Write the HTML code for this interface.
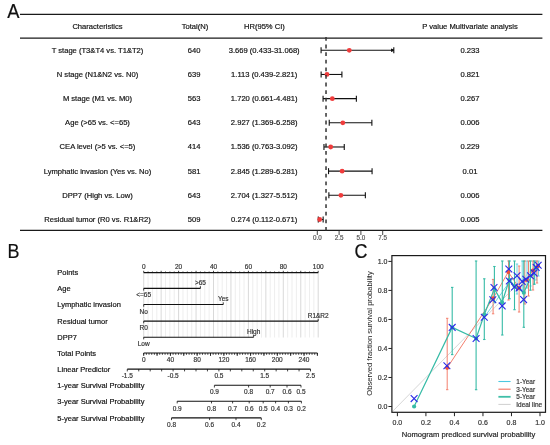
<!DOCTYPE html>
<html><head><meta charset="utf-8"><style>
html,body{margin:0;padding:0;background:#fff;}
svg{display:block;will-change:transform;}
text{font-family:"Liberation Sans", sans-serif;}
</style></head><body>
<svg width="550" height="445" viewBox="0 0 550 445">
<rect width="550" height="445" fill="#fff"/>
<g transform="translate(13.3,17.6) scale(0.95,1)">
<text x="0.00" y="0.00" font-size="19.3" text-anchor="middle" fill="#111" stroke="#111" stroke-width="0.18" >A</text>
</g>
<line x1="20.00" y1="14.30" x2="542.40" y2="14.30" stroke="#1a1a1a" stroke-width="1.2" />
<line x1="20.00" y1="38.20" x2="542.40" y2="38.20" stroke="#1a1a1a" stroke-width="1.2" />
<line x1="20.00" y1="230.40" x2="542.40" y2="230.40" stroke="#1a1a1a" stroke-width="1.2" />
<text x="97.50" y="29.10" font-size="7.6" text-anchor="middle" fill="#111" stroke="#111" stroke-width="0.18" >Characteristics</text>
<text x="195.00" y="29.10" font-size="7.6" text-anchor="middle" fill="#111" stroke="#111" stroke-width="0.18" >Total(N)</text>
<text x="264.40" y="29.10" font-size="7.6" text-anchor="middle" fill="#111" stroke="#111" stroke-width="0.18" >HR(95% CI)</text>
<text x="470.00" y="29.10" font-size="7.6" text-anchor="middle" fill="#111" stroke="#111" stroke-width="0.18" >P value Multivariate analysis</text>
<text x="97.50" y="52.70" font-size="7.6" text-anchor="middle" fill="#111" stroke="#111" stroke-width="0.18" >T stage (T3&amp;T4 vs. T1&amp;T2)</text>
<text x="194.20" y="52.70" font-size="7.6" text-anchor="middle" fill="#111" stroke="#111" stroke-width="0.18" >640</text>
<text x="264.20" y="52.70" font-size="7.6" text-anchor="middle" fill="#111" stroke="#111" stroke-width="0.18" >3.669 (0.433-31.068)</text>
<text x="470.00" y="52.70" font-size="7.6" text-anchor="middle" fill="#111" stroke="#111" stroke-width="0.18" >0.233</text>
<line x1="321.08" y1="50.30" x2="393.80" y2="50.30" stroke="#111" stroke-width="1.1" />
<line x1="321.08" y1="47.30" x2="321.08" y2="53.30" stroke="#111" stroke-width="1.1" />
<path d="M391.00,48.50 L393.80,49.50 L393.80,51.10 L391.00,52.10 Z" fill="#111"/>
<line x1="393.80" y1="47.30" x2="393.80" y2="53.30" stroke="#111" stroke-width="1.1" />
<circle cx="349.29" cy="50.30" r="2.4" fill="#f03c3c"/>
<text x="97.50" y="76.87" font-size="7.6" text-anchor="middle" fill="#111" stroke="#111" stroke-width="0.18" >N stage (N1&amp;N2 vs. N0)</text>
<text x="194.20" y="76.87" font-size="7.6" text-anchor="middle" fill="#111" stroke="#111" stroke-width="0.18" >639</text>
<text x="264.20" y="76.87" font-size="7.6" text-anchor="middle" fill="#111" stroke="#111" stroke-width="0.18" >1.113 (0.439-2.821)</text>
<text x="470.00" y="76.87" font-size="7.6" text-anchor="middle" fill="#111" stroke="#111" stroke-width="0.18" >0.821</text>
<line x1="321.13" y1="74.47" x2="341.90" y2="74.47" stroke="#111" stroke-width="1.1" />
<line x1="321.13" y1="71.47" x2="321.13" y2="77.47" stroke="#111" stroke-width="1.1" />
<line x1="341.90" y1="71.47" x2="341.90" y2="77.47" stroke="#111" stroke-width="1.1" />
<circle cx="327.01" cy="74.47" r="2.4" fill="#f03c3c"/>
<text x="97.50" y="101.04" font-size="7.6" text-anchor="middle" fill="#111" stroke="#111" stroke-width="0.18" >M stage (M1 vs. M0)</text>
<text x="194.20" y="101.04" font-size="7.6" text-anchor="middle" fill="#111" stroke="#111" stroke-width="0.18" >563</text>
<text x="264.20" y="101.04" font-size="7.6" text-anchor="middle" fill="#111" stroke="#111" stroke-width="0.18" >1.720 (0.661-4.481)</text>
<text x="470.00" y="101.04" font-size="7.6" text-anchor="middle" fill="#111" stroke="#111" stroke-width="0.18" >0.267</text>
<line x1="323.06" y1="98.64" x2="356.37" y2="98.64" stroke="#111" stroke-width="1.1" />
<line x1="323.06" y1="95.64" x2="323.06" y2="101.64" stroke="#111" stroke-width="1.1" />
<line x1="356.37" y1="95.64" x2="356.37" y2="101.64" stroke="#111" stroke-width="1.1" />
<circle cx="332.30" cy="98.64" r="2.4" fill="#f03c3c"/>
<text x="97.50" y="125.21" font-size="7.6" text-anchor="middle" fill="#111" stroke="#111" stroke-width="0.18" >Age (&gt;65 vs. &lt;=65)</text>
<text x="194.20" y="125.21" font-size="7.6" text-anchor="middle" fill="#111" stroke="#111" stroke-width="0.18" >643</text>
<text x="264.20" y="125.21" font-size="7.6" text-anchor="middle" fill="#111" stroke="#111" stroke-width="0.18" >2.927 (1.369-6.258)</text>
<text x="470.00" y="125.21" font-size="7.6" text-anchor="middle" fill="#111" stroke="#111" stroke-width="0.18" >0.006</text>
<line x1="329.24" y1="122.81" x2="371.87" y2="122.81" stroke="#111" stroke-width="1.1" />
<line x1="329.24" y1="119.81" x2="329.24" y2="125.81" stroke="#111" stroke-width="1.1" />
<line x1="371.87" y1="119.81" x2="371.87" y2="125.81" stroke="#111" stroke-width="1.1" />
<circle cx="342.82" cy="122.81" r="2.4" fill="#f03c3c"/>
<text x="97.50" y="149.38" font-size="7.6" text-anchor="middle" fill="#111" stroke="#111" stroke-width="0.18" >CEA level (&gt;5 vs. &lt;=5)</text>
<text x="194.20" y="149.38" font-size="7.6" text-anchor="middle" fill="#111" stroke="#111" stroke-width="0.18" >414</text>
<text x="264.20" y="149.38" font-size="7.6" text-anchor="middle" fill="#111" stroke="#111" stroke-width="0.18" >1.536 (0.763-3.092)</text>
<text x="470.00" y="149.38" font-size="7.6" text-anchor="middle" fill="#111" stroke="#111" stroke-width="0.18" >0.229</text>
<line x1="323.95" y1="146.98" x2="344.26" y2="146.98" stroke="#111" stroke-width="1.1" />
<line x1="323.95" y1="143.98" x2="323.95" y2="149.98" stroke="#111" stroke-width="1.1" />
<line x1="344.26" y1="143.98" x2="344.26" y2="149.98" stroke="#111" stroke-width="1.1" />
<circle cx="330.69" cy="146.98" r="2.4" fill="#f03c3c"/>
<text x="97.50" y="173.55" font-size="7.6" text-anchor="middle" fill="#111" stroke="#111" stroke-width="0.18" >Lymphatic invasion (Yes vs. No)</text>
<text x="194.20" y="173.55" font-size="7.6" text-anchor="middle" fill="#111" stroke="#111" stroke-width="0.18" >581</text>
<text x="264.20" y="173.55" font-size="7.6" text-anchor="middle" fill="#111" stroke="#111" stroke-width="0.18" >2.845 (1.289-6.281)</text>
<text x="470.00" y="173.55" font-size="7.6" text-anchor="middle" fill="#111" stroke="#111" stroke-width="0.18" >0.01</text>
<line x1="328.54" y1="171.15" x2="372.07" y2="171.15" stroke="#111" stroke-width="1.1" />
<line x1="328.54" y1="168.15" x2="328.54" y2="174.15" stroke="#111" stroke-width="1.1" />
<line x1="372.07" y1="168.15" x2="372.07" y2="174.15" stroke="#111" stroke-width="1.1" />
<circle cx="342.11" cy="171.15" r="2.4" fill="#f03c3c"/>
<text x="97.50" y="197.72" font-size="7.6" text-anchor="middle" fill="#111" stroke="#111" stroke-width="0.18" >DPP7 (High vs. Low)</text>
<text x="194.20" y="197.72" font-size="7.6" text-anchor="middle" fill="#111" stroke="#111" stroke-width="0.18" >643</text>
<text x="264.20" y="197.72" font-size="7.6" text-anchor="middle" fill="#111" stroke="#111" stroke-width="0.18" >2.704 (1.327-5.512)</text>
<text x="470.00" y="197.72" font-size="7.6" text-anchor="middle" fill="#111" stroke="#111" stroke-width="0.18" >0.006</text>
<line x1="328.87" y1="195.32" x2="365.36" y2="195.32" stroke="#111" stroke-width="1.1" />
<line x1="328.87" y1="192.32" x2="328.87" y2="198.32" stroke="#111" stroke-width="1.1" />
<line x1="365.36" y1="192.32" x2="365.36" y2="198.32" stroke="#111" stroke-width="1.1" />
<circle cx="340.88" cy="195.32" r="2.4" fill="#f03c3c"/>
<text x="97.50" y="221.89" font-size="7.6" text-anchor="middle" fill="#111" stroke="#111" stroke-width="0.18" >Residual tumor (R0 vs. R1&amp;R2)</text>
<text x="194.20" y="221.89" font-size="7.6" text-anchor="middle" fill="#111" stroke="#111" stroke-width="0.18" >509</text>
<text x="264.20" y="221.89" font-size="7.6" text-anchor="middle" fill="#111" stroke="#111" stroke-width="0.18" >0.274 (0.112-0.671)</text>
<text x="470.00" y="221.89" font-size="7.6" text-anchor="middle" fill="#111" stroke="#111" stroke-width="0.18" >0.005</text>
<line x1="318.28" y1="219.49" x2="323.15" y2="219.49" stroke="#111" stroke-width="1.1" />
<line x1="318.28" y1="216.49" x2="318.28" y2="222.49" stroke="#111" stroke-width="1.1" />
<line x1="323.15" y1="216.49" x2="323.15" y2="222.49" stroke="#111" stroke-width="1.1" />
<circle cx="319.69" cy="219.49" r="2.4" fill="#f03c3c"/>
<line x1="326.02" y1="37.00" x2="326.02" y2="230.60" stroke="#333" stroke-width="1.5" stroke-dasharray="3.8 3.8"/>
<line x1="317.30" y1="230.60" x2="317.30" y2="235.00" stroke="#333" stroke-width="0.9" />
<text x="317.30" y="239.80" font-size="6.3" text-anchor="middle" fill="#555" stroke="#555" stroke-width="0.18" >0.0</text>
<line x1="339.10" y1="230.60" x2="339.10" y2="235.00" stroke="#333" stroke-width="0.9" />
<text x="339.10" y="239.80" font-size="6.3" text-anchor="middle" fill="#555" stroke="#555" stroke-width="0.18" >2.5</text>
<line x1="360.90" y1="230.60" x2="360.90" y2="235.00" stroke="#333" stroke-width="0.9" />
<text x="360.90" y="239.80" font-size="6.3" text-anchor="middle" fill="#555" stroke="#555" stroke-width="0.18" >5.0</text>
<line x1="382.70" y1="230.60" x2="382.70" y2="235.00" stroke="#333" stroke-width="0.9" />
<text x="382.70" y="239.80" font-size="6.3" text-anchor="middle" fill="#555" stroke="#555" stroke-width="0.18" >7.5</text>
<g transform="translate(13.4,257.8) scale(0.93,1)">
<text x="0.00" y="0.00" font-size="19.3" text-anchor="middle" fill="#111" stroke="#111" stroke-width="0.18" >B</text>
</g>
<text x="57.30" y="275.30" font-size="7.5" text-anchor="start" fill="#111" stroke="#111" stroke-width="0.18" >Points</text>
<text x="57.30" y="291.00" font-size="7.5" text-anchor="start" fill="#111" stroke="#111" stroke-width="0.18" >Age</text>
<text x="57.30" y="307.20" font-size="7.5" text-anchor="start" fill="#111" stroke="#111" stroke-width="0.18" >Lymphatic invasion</text>
<text x="57.30" y="323.70" font-size="7.5" text-anchor="start" fill="#111" stroke="#111" stroke-width="0.18" >Residual tumor</text>
<text x="57.30" y="339.90" font-size="7.5" text-anchor="start" fill="#111" stroke="#111" stroke-width="0.18" >DPP7</text>
<text x="57.30" y="356.30" font-size="7.5" text-anchor="start" fill="#111" stroke="#111" stroke-width="0.18" >Total Points</text>
<text x="57.30" y="372.00" font-size="7.5" text-anchor="start" fill="#111" stroke="#111" stroke-width="0.18" >Linear Predictor</text>
<text x="57.30" y="387.90" font-size="7.5" text-anchor="start" fill="#111" stroke="#111" stroke-width="0.18" >1-year Survival Probability</text>
<text x="57.30" y="404.00" font-size="7.5" text-anchor="start" fill="#111" stroke="#111" stroke-width="0.18" >3-year Survival Probability</text>
<text x="57.30" y="420.50" font-size="7.5" text-anchor="start" fill="#111" stroke="#111" stroke-width="0.18" >5-year Survival Probability</text>
<line x1="143.70" y1="272.60" x2="143.70" y2="337.50" stroke="#c8c8c8" stroke-width="0.7" />
<line x1="148.06" y1="272.60" x2="148.06" y2="337.50" stroke="#e6e6e6" stroke-width="0.7" />
<line x1="152.42" y1="272.60" x2="152.42" y2="337.50" stroke="#e6e6e6" stroke-width="0.7" />
<line x1="156.79" y1="272.60" x2="156.79" y2="337.50" stroke="#e6e6e6" stroke-width="0.7" />
<line x1="161.15" y1="272.60" x2="161.15" y2="337.50" stroke="#c8c8c8" stroke-width="0.7" />
<line x1="165.51" y1="272.60" x2="165.51" y2="337.50" stroke="#e6e6e6" stroke-width="0.7" />
<line x1="169.88" y1="272.60" x2="169.88" y2="337.50" stroke="#e6e6e6" stroke-width="0.7" />
<line x1="174.24" y1="272.60" x2="174.24" y2="337.50" stroke="#e6e6e6" stroke-width="0.7" />
<line x1="178.60" y1="272.60" x2="178.60" y2="337.50" stroke="#c8c8c8" stroke-width="0.7" />
<line x1="182.96" y1="272.60" x2="182.96" y2="337.50" stroke="#e6e6e6" stroke-width="0.7" />
<line x1="187.32" y1="272.60" x2="187.32" y2="337.50" stroke="#e6e6e6" stroke-width="0.7" />
<line x1="191.69" y1="272.60" x2="191.69" y2="337.50" stroke="#e6e6e6" stroke-width="0.7" />
<line x1="196.05" y1="272.60" x2="196.05" y2="337.50" stroke="#c8c8c8" stroke-width="0.7" />
<line x1="200.41" y1="272.60" x2="200.41" y2="337.50" stroke="#e6e6e6" stroke-width="0.7" />
<line x1="204.77" y1="272.60" x2="204.77" y2="337.50" stroke="#e6e6e6" stroke-width="0.7" />
<line x1="209.14" y1="272.60" x2="209.14" y2="337.50" stroke="#e6e6e6" stroke-width="0.7" />
<line x1="213.50" y1="272.60" x2="213.50" y2="337.50" stroke="#c8c8c8" stroke-width="0.7" />
<line x1="217.86" y1="272.60" x2="217.86" y2="337.50" stroke="#e6e6e6" stroke-width="0.7" />
<line x1="222.22" y1="272.60" x2="222.22" y2="337.50" stroke="#e6e6e6" stroke-width="0.7" />
<line x1="226.59" y1="272.60" x2="226.59" y2="337.50" stroke="#e6e6e6" stroke-width="0.7" />
<line x1="230.95" y1="272.60" x2="230.95" y2="337.50" stroke="#c8c8c8" stroke-width="0.7" />
<line x1="235.31" y1="272.60" x2="235.31" y2="337.50" stroke="#e6e6e6" stroke-width="0.7" />
<line x1="239.68" y1="272.60" x2="239.68" y2="337.50" stroke="#e6e6e6" stroke-width="0.7" />
<line x1="244.04" y1="272.60" x2="244.04" y2="337.50" stroke="#e6e6e6" stroke-width="0.7" />
<line x1="248.40" y1="272.60" x2="248.40" y2="337.50" stroke="#c8c8c8" stroke-width="0.7" />
<line x1="252.76" y1="272.60" x2="252.76" y2="337.50" stroke="#e6e6e6" stroke-width="0.7" />
<line x1="257.12" y1="272.60" x2="257.12" y2="337.50" stroke="#e6e6e6" stroke-width="0.7" />
<line x1="261.49" y1="272.60" x2="261.49" y2="337.50" stroke="#e6e6e6" stroke-width="0.7" />
<line x1="265.85" y1="272.60" x2="265.85" y2="337.50" stroke="#c8c8c8" stroke-width="0.7" />
<line x1="270.21" y1="272.60" x2="270.21" y2="337.50" stroke="#e6e6e6" stroke-width="0.7" />
<line x1="274.57" y1="272.60" x2="274.57" y2="337.50" stroke="#e6e6e6" stroke-width="0.7" />
<line x1="278.94" y1="272.60" x2="278.94" y2="337.50" stroke="#e6e6e6" stroke-width="0.7" />
<line x1="283.30" y1="272.60" x2="283.30" y2="337.50" stroke="#c8c8c8" stroke-width="0.7" />
<line x1="287.66" y1="272.60" x2="287.66" y2="337.50" stroke="#e6e6e6" stroke-width="0.7" />
<line x1="292.02" y1="272.60" x2="292.02" y2="337.50" stroke="#e6e6e6" stroke-width="0.7" />
<line x1="296.39" y1="272.60" x2="296.39" y2="337.50" stroke="#e6e6e6" stroke-width="0.7" />
<line x1="300.75" y1="272.60" x2="300.75" y2="337.50" stroke="#c8c8c8" stroke-width="0.7" />
<line x1="305.11" y1="272.60" x2="305.11" y2="337.50" stroke="#e6e6e6" stroke-width="0.7" />
<line x1="309.48" y1="272.60" x2="309.48" y2="337.50" stroke="#e6e6e6" stroke-width="0.7" />
<line x1="313.84" y1="272.60" x2="313.84" y2="337.50" stroke="#e6e6e6" stroke-width="0.7" />
<line x1="318.20" y1="272.60" x2="318.20" y2="337.50" stroke="#c8c8c8" stroke-width="0.7" />
<line x1="143.70" y1="272.60" x2="318.20" y2="272.60" stroke="#111" stroke-width="1.1" />
<line x1="143.70" y1="272.60" x2="143.70" y2="270.80" stroke="#111" stroke-width="0.8" />
<line x1="148.06" y1="272.60" x2="148.06" y2="271.50" stroke="#111" stroke-width="0.8" />
<line x1="152.42" y1="272.60" x2="152.42" y2="271.50" stroke="#111" stroke-width="0.8" />
<line x1="156.79" y1="272.60" x2="156.79" y2="271.50" stroke="#111" stroke-width="0.8" />
<line x1="161.15" y1="272.60" x2="161.15" y2="270.80" stroke="#111" stroke-width="0.8" />
<line x1="165.51" y1="272.60" x2="165.51" y2="271.50" stroke="#111" stroke-width="0.8" />
<line x1="169.88" y1="272.60" x2="169.88" y2="271.50" stroke="#111" stroke-width="0.8" />
<line x1="174.24" y1="272.60" x2="174.24" y2="271.50" stroke="#111" stroke-width="0.8" />
<line x1="178.60" y1="272.60" x2="178.60" y2="270.80" stroke="#111" stroke-width="0.8" />
<line x1="182.96" y1="272.60" x2="182.96" y2="271.50" stroke="#111" stroke-width="0.8" />
<line x1="187.32" y1="272.60" x2="187.32" y2="271.50" stroke="#111" stroke-width="0.8" />
<line x1="191.69" y1="272.60" x2="191.69" y2="271.50" stroke="#111" stroke-width="0.8" />
<line x1="196.05" y1="272.60" x2="196.05" y2="270.80" stroke="#111" stroke-width="0.8" />
<line x1="200.41" y1="272.60" x2="200.41" y2="271.50" stroke="#111" stroke-width="0.8" />
<line x1="204.77" y1="272.60" x2="204.77" y2="271.50" stroke="#111" stroke-width="0.8" />
<line x1="209.14" y1="272.60" x2="209.14" y2="271.50" stroke="#111" stroke-width="0.8" />
<line x1="213.50" y1="272.60" x2="213.50" y2="270.80" stroke="#111" stroke-width="0.8" />
<line x1="217.86" y1="272.60" x2="217.86" y2="271.50" stroke="#111" stroke-width="0.8" />
<line x1="222.22" y1="272.60" x2="222.22" y2="271.50" stroke="#111" stroke-width="0.8" />
<line x1="226.59" y1="272.60" x2="226.59" y2="271.50" stroke="#111" stroke-width="0.8" />
<line x1="230.95" y1="272.60" x2="230.95" y2="270.80" stroke="#111" stroke-width="0.8" />
<line x1="235.31" y1="272.60" x2="235.31" y2="271.50" stroke="#111" stroke-width="0.8" />
<line x1="239.68" y1="272.60" x2="239.68" y2="271.50" stroke="#111" stroke-width="0.8" />
<line x1="244.04" y1="272.60" x2="244.04" y2="271.50" stroke="#111" stroke-width="0.8" />
<line x1="248.40" y1="272.60" x2="248.40" y2="270.80" stroke="#111" stroke-width="0.8" />
<line x1="252.76" y1="272.60" x2="252.76" y2="271.50" stroke="#111" stroke-width="0.8" />
<line x1="257.12" y1="272.60" x2="257.12" y2="271.50" stroke="#111" stroke-width="0.8" />
<line x1="261.49" y1="272.60" x2="261.49" y2="271.50" stroke="#111" stroke-width="0.8" />
<line x1="265.85" y1="272.60" x2="265.85" y2="270.80" stroke="#111" stroke-width="0.8" />
<line x1="270.21" y1="272.60" x2="270.21" y2="271.50" stroke="#111" stroke-width="0.8" />
<line x1="274.57" y1="272.60" x2="274.57" y2="271.50" stroke="#111" stroke-width="0.8" />
<line x1="278.94" y1="272.60" x2="278.94" y2="271.50" stroke="#111" stroke-width="0.8" />
<line x1="283.30" y1="272.60" x2="283.30" y2="270.80" stroke="#111" stroke-width="0.8" />
<line x1="287.66" y1="272.60" x2="287.66" y2="271.50" stroke="#111" stroke-width="0.8" />
<line x1="292.02" y1="272.60" x2="292.02" y2="271.50" stroke="#111" stroke-width="0.8" />
<line x1="296.39" y1="272.60" x2="296.39" y2="271.50" stroke="#111" stroke-width="0.8" />
<line x1="300.75" y1="272.60" x2="300.75" y2="270.80" stroke="#111" stroke-width="0.8" />
<line x1="305.11" y1="272.60" x2="305.11" y2="271.50" stroke="#111" stroke-width="0.8" />
<line x1="309.48" y1="272.60" x2="309.48" y2="271.50" stroke="#111" stroke-width="0.8" />
<line x1="313.84" y1="272.60" x2="313.84" y2="271.50" stroke="#111" stroke-width="0.8" />
<line x1="318.20" y1="272.60" x2="318.20" y2="270.80" stroke="#111" stroke-width="0.8" />
<text x="143.70" y="268.60" font-size="6.5" text-anchor="middle" fill="#333" stroke="#333" stroke-width="0.18" >0</text>
<text x="178.60" y="268.60" font-size="6.5" text-anchor="middle" fill="#333" stroke="#333" stroke-width="0.18" >20</text>
<text x="213.50" y="268.60" font-size="6.5" text-anchor="middle" fill="#333" stroke="#333" stroke-width="0.18" >40</text>
<text x="248.40" y="268.60" font-size="6.5" text-anchor="middle" fill="#333" stroke="#333" stroke-width="0.18" >60</text>
<text x="283.30" y="268.60" font-size="6.5" text-anchor="middle" fill="#333" stroke="#333" stroke-width="0.18" >80</text>
<text x="318.20" y="268.60" font-size="6.5" text-anchor="middle" fill="#333" stroke="#333" stroke-width="0.18" >100</text>
<line x1="143.70" y1="288.40" x2="200.41" y2="288.40" stroke="#111" stroke-width="1.1" />
<line x1="143.70" y1="288.40" x2="143.70" y2="290.60" stroke="#111" stroke-width="0.8" />
<line x1="200.41" y1="288.40" x2="200.41" y2="286.20" stroke="#111" stroke-width="0.8" />
<text x="143.70" y="297.40" font-size="6.5" text-anchor="middle" fill="#333" stroke="#333" stroke-width="0.18" >&lt;=65</text>
<text x="200.41" y="285.00" font-size="6.5" text-anchor="middle" fill="#333" stroke="#333" stroke-width="0.18" >&gt;65</text>
<line x1="143.70" y1="304.50" x2="223.27" y2="304.50" stroke="#111" stroke-width="1.1" />
<line x1="143.70" y1="304.50" x2="143.70" y2="306.70" stroke="#111" stroke-width="0.8" />
<line x1="223.27" y1="304.50" x2="223.27" y2="302.30" stroke="#111" stroke-width="0.8" />
<text x="143.70" y="313.50" font-size="6.5" text-anchor="middle" fill="#333" stroke="#333" stroke-width="0.18" >No</text>
<text x="223.27" y="301.10" font-size="6.5" text-anchor="middle" fill="#333" stroke="#333" stroke-width="0.18" >Yes</text>
<line x1="143.70" y1="321.10" x2="318.20" y2="321.10" stroke="#111" stroke-width="1.1" />
<line x1="143.70" y1="321.10" x2="143.70" y2="323.30" stroke="#111" stroke-width="0.8" />
<line x1="318.20" y1="321.10" x2="318.20" y2="318.90" stroke="#111" stroke-width="0.8" />
<text x="143.70" y="330.10" font-size="6.5" text-anchor="middle" fill="#333" stroke="#333" stroke-width="0.18" >R0</text>
<text x="318.20" y="317.70" font-size="6.5" text-anchor="middle" fill="#333" stroke="#333" stroke-width="0.18" >R1&amp;R2</text>
<line x1="143.70" y1="337.20" x2="253.63" y2="337.20" stroke="#111" stroke-width="1.1" />
<line x1="143.70" y1="337.20" x2="143.70" y2="339.40" stroke="#111" stroke-width="0.8" />
<line x1="253.63" y1="337.20" x2="253.63" y2="335.00" stroke="#111" stroke-width="0.8" />
<text x="143.70" y="346.20" font-size="6.5" text-anchor="middle" fill="#333" stroke="#333" stroke-width="0.18" >Low</text>
<text x="253.63" y="333.80" font-size="6.5" text-anchor="middle" fill="#333" stroke="#333" stroke-width="0.18" >High</text>
<line x1="143.70" y1="353.00" x2="317.38" y2="353.00" stroke="#111" stroke-width="1.1" />
<line x1="143.70" y1="353.00" x2="143.70" y2="354.80" stroke="#111" stroke-width="0.8" />
<line x1="146.37" y1="353.00" x2="146.37" y2="354.80" stroke="#111" stroke-width="0.8" />
<line x1="149.04" y1="353.00" x2="149.04" y2="354.80" stroke="#111" stroke-width="0.8" />
<line x1="151.72" y1="353.00" x2="151.72" y2="354.80" stroke="#111" stroke-width="0.8" />
<line x1="154.39" y1="353.00" x2="154.39" y2="354.80" stroke="#111" stroke-width="0.8" />
<line x1="157.06" y1="353.00" x2="157.06" y2="354.80" stroke="#111" stroke-width="0.8" />
<line x1="159.73" y1="353.00" x2="159.73" y2="354.80" stroke="#111" stroke-width="0.8" />
<line x1="162.40" y1="353.00" x2="162.40" y2="354.80" stroke="#111" stroke-width="0.8" />
<line x1="165.08" y1="353.00" x2="165.08" y2="354.80" stroke="#111" stroke-width="0.8" />
<line x1="167.75" y1="353.00" x2="167.75" y2="354.80" stroke="#111" stroke-width="0.8" />
<line x1="170.42" y1="353.00" x2="170.42" y2="354.80" stroke="#111" stroke-width="0.8" />
<line x1="173.09" y1="353.00" x2="173.09" y2="354.80" stroke="#111" stroke-width="0.8" />
<line x1="175.76" y1="353.00" x2="175.76" y2="354.80" stroke="#111" stroke-width="0.8" />
<line x1="178.44" y1="353.00" x2="178.44" y2="354.80" stroke="#111" stroke-width="0.8" />
<line x1="181.11" y1="353.00" x2="181.11" y2="354.80" stroke="#111" stroke-width="0.8" />
<line x1="183.78" y1="353.00" x2="183.78" y2="354.80" stroke="#111" stroke-width="0.8" />
<line x1="186.45" y1="353.00" x2="186.45" y2="354.80" stroke="#111" stroke-width="0.8" />
<line x1="189.12" y1="353.00" x2="189.12" y2="354.80" stroke="#111" stroke-width="0.8" />
<line x1="191.80" y1="353.00" x2="191.80" y2="354.80" stroke="#111" stroke-width="0.8" />
<line x1="194.47" y1="353.00" x2="194.47" y2="354.80" stroke="#111" stroke-width="0.8" />
<line x1="197.14" y1="353.00" x2="197.14" y2="354.80" stroke="#111" stroke-width="0.8" />
<line x1="199.81" y1="353.00" x2="199.81" y2="354.80" stroke="#111" stroke-width="0.8" />
<line x1="202.48" y1="353.00" x2="202.48" y2="354.80" stroke="#111" stroke-width="0.8" />
<line x1="205.16" y1="353.00" x2="205.16" y2="354.80" stroke="#111" stroke-width="0.8" />
<line x1="207.83" y1="353.00" x2="207.83" y2="354.80" stroke="#111" stroke-width="0.8" />
<line x1="210.50" y1="353.00" x2="210.50" y2="354.80" stroke="#111" stroke-width="0.8" />
<line x1="213.17" y1="353.00" x2="213.17" y2="354.80" stroke="#111" stroke-width="0.8" />
<line x1="215.84" y1="353.00" x2="215.84" y2="354.80" stroke="#111" stroke-width="0.8" />
<line x1="218.52" y1="353.00" x2="218.52" y2="354.80" stroke="#111" stroke-width="0.8" />
<line x1="221.19" y1="353.00" x2="221.19" y2="354.80" stroke="#111" stroke-width="0.8" />
<line x1="223.86" y1="353.00" x2="223.86" y2="354.80" stroke="#111" stroke-width="0.8" />
<line x1="226.53" y1="353.00" x2="226.53" y2="354.80" stroke="#111" stroke-width="0.8" />
<line x1="229.20" y1="353.00" x2="229.20" y2="354.80" stroke="#111" stroke-width="0.8" />
<line x1="231.88" y1="353.00" x2="231.88" y2="354.80" stroke="#111" stroke-width="0.8" />
<line x1="234.55" y1="353.00" x2="234.55" y2="354.80" stroke="#111" stroke-width="0.8" />
<line x1="237.22" y1="353.00" x2="237.22" y2="354.80" stroke="#111" stroke-width="0.8" />
<line x1="239.89" y1="353.00" x2="239.89" y2="354.80" stroke="#111" stroke-width="0.8" />
<line x1="242.56" y1="353.00" x2="242.56" y2="354.80" stroke="#111" stroke-width="0.8" />
<line x1="245.24" y1="353.00" x2="245.24" y2="354.80" stroke="#111" stroke-width="0.8" />
<line x1="247.91" y1="353.00" x2="247.91" y2="354.80" stroke="#111" stroke-width="0.8" />
<line x1="250.58" y1="353.00" x2="250.58" y2="354.80" stroke="#111" stroke-width="0.8" />
<line x1="253.25" y1="353.00" x2="253.25" y2="354.80" stroke="#111" stroke-width="0.8" />
<line x1="255.92" y1="353.00" x2="255.92" y2="354.80" stroke="#111" stroke-width="0.8" />
<line x1="258.60" y1="353.00" x2="258.60" y2="354.80" stroke="#111" stroke-width="0.8" />
<line x1="261.27" y1="353.00" x2="261.27" y2="354.80" stroke="#111" stroke-width="0.8" />
<line x1="263.94" y1="353.00" x2="263.94" y2="354.80" stroke="#111" stroke-width="0.8" />
<line x1="266.61" y1="353.00" x2="266.61" y2="354.80" stroke="#111" stroke-width="0.8" />
<line x1="269.28" y1="353.00" x2="269.28" y2="354.80" stroke="#111" stroke-width="0.8" />
<line x1="271.96" y1="353.00" x2="271.96" y2="354.80" stroke="#111" stroke-width="0.8" />
<line x1="274.63" y1="353.00" x2="274.63" y2="354.80" stroke="#111" stroke-width="0.8" />
<line x1="277.30" y1="353.00" x2="277.30" y2="354.80" stroke="#111" stroke-width="0.8" />
<line x1="279.97" y1="353.00" x2="279.97" y2="354.80" stroke="#111" stroke-width="0.8" />
<line x1="282.64" y1="353.00" x2="282.64" y2="354.80" stroke="#111" stroke-width="0.8" />
<line x1="285.32" y1="353.00" x2="285.32" y2="354.80" stroke="#111" stroke-width="0.8" />
<line x1="287.99" y1="353.00" x2="287.99" y2="354.80" stroke="#111" stroke-width="0.8" />
<line x1="290.66" y1="353.00" x2="290.66" y2="354.80" stroke="#111" stroke-width="0.8" />
<line x1="293.33" y1="353.00" x2="293.33" y2="354.80" stroke="#111" stroke-width="0.8" />
<line x1="296.00" y1="353.00" x2="296.00" y2="354.80" stroke="#111" stroke-width="0.8" />
<line x1="298.68" y1="353.00" x2="298.68" y2="354.80" stroke="#111" stroke-width="0.8" />
<line x1="301.35" y1="353.00" x2="301.35" y2="354.80" stroke="#111" stroke-width="0.8" />
<line x1="304.02" y1="353.00" x2="304.02" y2="354.80" stroke="#111" stroke-width="0.8" />
<line x1="306.69" y1="353.00" x2="306.69" y2="354.80" stroke="#111" stroke-width="0.8" />
<line x1="309.36" y1="353.00" x2="309.36" y2="354.80" stroke="#111" stroke-width="0.8" />
<line x1="312.04" y1="353.00" x2="312.04" y2="354.80" stroke="#111" stroke-width="0.8" />
<line x1="314.71" y1="353.00" x2="314.71" y2="354.80" stroke="#111" stroke-width="0.8" />
<line x1="317.38" y1="353.00" x2="317.38" y2="354.80" stroke="#111" stroke-width="0.8" />
<line x1="143.70" y1="353.00" x2="143.70" y2="356.00" stroke="#111" stroke-width="0.8" />
<line x1="157.06" y1="353.00" x2="157.06" y2="356.00" stroke="#111" stroke-width="0.8" />
<line x1="170.42" y1="353.00" x2="170.42" y2="356.00" stroke="#111" stroke-width="0.8" />
<line x1="183.78" y1="353.00" x2="183.78" y2="356.00" stroke="#111" stroke-width="0.8" />
<line x1="197.14" y1="353.00" x2="197.14" y2="356.00" stroke="#111" stroke-width="0.8" />
<line x1="210.50" y1="353.00" x2="210.50" y2="356.00" stroke="#111" stroke-width="0.8" />
<line x1="223.86" y1="353.00" x2="223.86" y2="356.00" stroke="#111" stroke-width="0.8" />
<line x1="237.22" y1="353.00" x2="237.22" y2="356.00" stroke="#111" stroke-width="0.8" />
<line x1="250.58" y1="353.00" x2="250.58" y2="356.00" stroke="#111" stroke-width="0.8" />
<line x1="263.94" y1="353.00" x2="263.94" y2="356.00" stroke="#111" stroke-width="0.8" />
<line x1="277.30" y1="353.00" x2="277.30" y2="356.00" stroke="#111" stroke-width="0.8" />
<line x1="290.66" y1="353.00" x2="290.66" y2="356.00" stroke="#111" stroke-width="0.8" />
<line x1="304.02" y1="353.00" x2="304.02" y2="356.00" stroke="#111" stroke-width="0.8" />
<line x1="317.38" y1="353.00" x2="317.38" y2="356.00" stroke="#111" stroke-width="0.8" />
<text x="143.70" y="361.80" font-size="6.5" text-anchor="middle" fill="#333" stroke="#333" stroke-width="0.18" >0</text>
<text x="170.42" y="361.80" font-size="6.5" text-anchor="middle" fill="#333" stroke="#333" stroke-width="0.18" >40</text>
<text x="197.14" y="361.80" font-size="6.5" text-anchor="middle" fill="#333" stroke="#333" stroke-width="0.18" >80</text>
<text x="223.86" y="361.80" font-size="6.5" text-anchor="middle" fill="#333" stroke="#333" stroke-width="0.18" >120</text>
<text x="250.58" y="361.80" font-size="6.5" text-anchor="middle" fill="#333" stroke="#333" stroke-width="0.18" >160</text>
<text x="277.30" y="361.80" font-size="6.5" text-anchor="middle" fill="#333" stroke="#333" stroke-width="0.18" >200</text>
<text x="304.02" y="361.80" font-size="6.5" text-anchor="middle" fill="#333" stroke="#333" stroke-width="0.18" >240</text>
<line x1="127.30" y1="369.10" x2="310.50" y2="369.10" stroke="#111" stroke-width="1.1" />
<line x1="127.30" y1="369.10" x2="127.30" y2="371.40" stroke="#111" stroke-width="0.8" />
<line x1="138.75" y1="369.10" x2="138.75" y2="371.40" stroke="#111" stroke-width="0.8" />
<line x1="150.20" y1="369.10" x2="150.20" y2="371.40" stroke="#111" stroke-width="0.8" />
<line x1="161.65" y1="369.10" x2="161.65" y2="371.40" stroke="#111" stroke-width="0.8" />
<line x1="173.10" y1="369.10" x2="173.10" y2="371.40" stroke="#111" stroke-width="0.8" />
<line x1="184.55" y1="369.10" x2="184.55" y2="371.40" stroke="#111" stroke-width="0.8" />
<line x1="196.00" y1="369.10" x2="196.00" y2="371.40" stroke="#111" stroke-width="0.8" />
<line x1="207.45" y1="369.10" x2="207.45" y2="371.40" stroke="#111" stroke-width="0.8" />
<line x1="218.90" y1="369.10" x2="218.90" y2="371.40" stroke="#111" stroke-width="0.8" />
<line x1="230.35" y1="369.10" x2="230.35" y2="371.40" stroke="#111" stroke-width="0.8" />
<line x1="241.80" y1="369.10" x2="241.80" y2="371.40" stroke="#111" stroke-width="0.8" />
<line x1="253.25" y1="369.10" x2="253.25" y2="371.40" stroke="#111" stroke-width="0.8" />
<line x1="264.70" y1="369.10" x2="264.70" y2="371.40" stroke="#111" stroke-width="0.8" />
<line x1="276.15" y1="369.10" x2="276.15" y2="371.40" stroke="#111" stroke-width="0.8" />
<line x1="287.60" y1="369.10" x2="287.60" y2="371.40" stroke="#111" stroke-width="0.8" />
<line x1="299.05" y1="369.10" x2="299.05" y2="371.40" stroke="#111" stroke-width="0.8" />
<line x1="310.50" y1="369.10" x2="310.50" y2="371.40" stroke="#111" stroke-width="0.8" />
<text x="127.30" y="377.60" font-size="6.5" text-anchor="middle" fill="#333" stroke="#333" stroke-width="0.18" >-1.5</text>
<text x="173.10" y="377.60" font-size="6.5" text-anchor="middle" fill="#333" stroke="#333" stroke-width="0.18" >-0.5</text>
<text x="218.90" y="377.60" font-size="6.5" text-anchor="middle" fill="#333" stroke="#333" stroke-width="0.18" >0.5</text>
<text x="264.70" y="377.60" font-size="6.5" text-anchor="middle" fill="#333" stroke="#333" stroke-width="0.18" >1.5</text>
<text x="310.50" y="377.60" font-size="6.5" text-anchor="middle" fill="#333" stroke="#333" stroke-width="0.18" >2.5</text>
<line x1="214.40" y1="385.30" x2="301.00" y2="385.30" stroke="#111" stroke-width="1.1" />
<line x1="214.40" y1="385.30" x2="214.40" y2="387.50" stroke="#111" stroke-width="0.8" />
<text x="214.40" y="394.40" font-size="6.5" text-anchor="middle" fill="#333" stroke="#333" stroke-width="0.18" >0.9</text>
<line x1="248.60" y1="385.30" x2="248.60" y2="387.50" stroke="#111" stroke-width="0.8" />
<text x="248.60" y="394.40" font-size="6.5" text-anchor="middle" fill="#333" stroke="#333" stroke-width="0.18" >0.8</text>
<line x1="270.20" y1="385.30" x2="270.20" y2="387.50" stroke="#111" stroke-width="0.8" />
<text x="270.20" y="394.40" font-size="6.5" text-anchor="middle" fill="#333" stroke="#333" stroke-width="0.18" >0.7</text>
<line x1="287.00" y1="385.30" x2="287.00" y2="387.50" stroke="#111" stroke-width="0.8" />
<text x="287.00" y="394.40" font-size="6.5" text-anchor="middle" fill="#333" stroke="#333" stroke-width="0.18" >0.6</text>
<line x1="301.00" y1="385.30" x2="301.00" y2="387.50" stroke="#111" stroke-width="0.8" />
<text x="301.00" y="394.40" font-size="6.5" text-anchor="middle" fill="#333" stroke="#333" stroke-width="0.18" >0.5</text>
<line x1="177.20" y1="401.20" x2="301.40" y2="401.20" stroke="#111" stroke-width="1.1" />
<line x1="177.20" y1="401.20" x2="177.20" y2="403.40" stroke="#111" stroke-width="0.8" />
<text x="177.20" y="410.60" font-size="6.5" text-anchor="middle" fill="#333" stroke="#333" stroke-width="0.18" >0.9</text>
<line x1="211.50" y1="401.20" x2="211.50" y2="403.40" stroke="#111" stroke-width="0.8" />
<text x="211.50" y="410.60" font-size="6.5" text-anchor="middle" fill="#333" stroke="#333" stroke-width="0.18" >0.8</text>
<line x1="232.60" y1="401.20" x2="232.60" y2="403.40" stroke="#111" stroke-width="0.8" />
<text x="232.60" y="410.60" font-size="6.5" text-anchor="middle" fill="#333" stroke="#333" stroke-width="0.18" >0.7</text>
<line x1="249.20" y1="401.20" x2="249.20" y2="403.40" stroke="#111" stroke-width="0.8" />
<text x="249.20" y="410.60" font-size="6.5" text-anchor="middle" fill="#333" stroke="#333" stroke-width="0.18" >0.6</text>
<line x1="263.20" y1="401.20" x2="263.20" y2="403.40" stroke="#111" stroke-width="0.8" />
<text x="263.20" y="410.60" font-size="6.5" text-anchor="middle" fill="#333" stroke="#333" stroke-width="0.18" >0.5</text>
<line x1="275.60" y1="401.20" x2="275.60" y2="403.40" stroke="#111" stroke-width="0.8" />
<text x="275.60" y="410.60" font-size="6.5" text-anchor="middle" fill="#333" stroke="#333" stroke-width="0.18" >0.4</text>
<line x1="288.40" y1="401.20" x2="288.40" y2="403.40" stroke="#111" stroke-width="0.8" />
<text x="288.40" y="410.60" font-size="6.5" text-anchor="middle" fill="#333" stroke="#333" stroke-width="0.18" >0.3</text>
<line x1="301.40" y1="401.20" x2="301.40" y2="403.40" stroke="#111" stroke-width="0.8" />
<text x="301.40" y="410.60" font-size="6.5" text-anchor="middle" fill="#333" stroke="#333" stroke-width="0.18" >0.2</text>
<line x1="171.50" y1="417.90" x2="261.30" y2="417.90" stroke="#111" stroke-width="1.1" />
<line x1="171.50" y1="417.90" x2="171.50" y2="420.10" stroke="#111" stroke-width="0.8" />
<text x="171.50" y="427.20" font-size="6.5" text-anchor="middle" fill="#333" stroke="#333" stroke-width="0.18" >0.8</text>
<line x1="209.60" y1="417.90" x2="209.60" y2="420.10" stroke="#111" stroke-width="0.8" />
<text x="209.60" y="427.20" font-size="6.5" text-anchor="middle" fill="#333" stroke="#333" stroke-width="0.18" >0.6</text>
<line x1="236.00" y1="417.90" x2="236.00" y2="420.10" stroke="#111" stroke-width="0.8" />
<text x="236.00" y="427.20" font-size="6.5" text-anchor="middle" fill="#333" stroke="#333" stroke-width="0.18" >0.4</text>
<line x1="261.30" y1="417.90" x2="261.30" y2="420.10" stroke="#111" stroke-width="0.8" />
<text x="261.30" y="427.20" font-size="6.5" text-anchor="middle" fill="#333" stroke="#333" stroke-width="0.18" >0.2</text>
<g transform="translate(361.0,257.7) scale(0.92,1)">
<text x="0.00" y="0.00" font-size="19.5" text-anchor="middle" fill="#111" stroke="#111" stroke-width="0.18" >C</text>
</g>
<rect x="391.9" y="255.6" width="153.6" height="156.7" fill="none" stroke="#1a1a1a" stroke-width="1.2"/>
<line x1="388.40" y1="406.50" x2="391.90" y2="406.50" stroke="#222" stroke-width="1.0" />
<text x="387.40" y="409.00" font-size="7.0" text-anchor="end" fill="#333" stroke="#333" stroke-width="0.18" >0.0</text>
<line x1="397.40" y1="412.30" x2="397.40" y2="416.20" stroke="#222" stroke-width="1.0" />
<text x="397.40" y="425.20" font-size="7.0" text-anchor="middle" fill="#333" stroke="#333" stroke-width="0.18" >0.0</text>
<line x1="388.40" y1="377.48" x2="391.90" y2="377.48" stroke="#222" stroke-width="1.0" />
<text x="387.40" y="379.98" font-size="7.0" text-anchor="end" fill="#333" stroke="#333" stroke-width="0.18" >0.2</text>
<line x1="425.92" y1="412.30" x2="425.92" y2="416.20" stroke="#222" stroke-width="1.0" />
<text x="425.92" y="425.20" font-size="7.0" text-anchor="middle" fill="#333" stroke="#333" stroke-width="0.18" >0.2</text>
<line x1="388.40" y1="348.46" x2="391.90" y2="348.46" stroke="#222" stroke-width="1.0" />
<text x="387.40" y="350.96" font-size="7.0" text-anchor="end" fill="#333" stroke="#333" stroke-width="0.18" >0.4</text>
<line x1="454.44" y1="412.30" x2="454.44" y2="416.20" stroke="#222" stroke-width="1.0" />
<text x="454.44" y="425.20" font-size="7.0" text-anchor="middle" fill="#333" stroke="#333" stroke-width="0.18" >0.4</text>
<line x1="388.40" y1="319.44" x2="391.90" y2="319.44" stroke="#222" stroke-width="1.0" />
<text x="387.40" y="321.94" font-size="7.0" text-anchor="end" fill="#333" stroke="#333" stroke-width="0.18" >0.6</text>
<line x1="482.96" y1="412.30" x2="482.96" y2="416.20" stroke="#222" stroke-width="1.0" />
<text x="482.96" y="425.20" font-size="7.0" text-anchor="middle" fill="#333" stroke="#333" stroke-width="0.18" >0.6</text>
<line x1="388.40" y1="290.42" x2="391.90" y2="290.42" stroke="#222" stroke-width="1.0" />
<text x="387.40" y="292.92" font-size="7.0" text-anchor="end" fill="#333" stroke="#333" stroke-width="0.18" >0.8</text>
<line x1="511.48" y1="412.30" x2="511.48" y2="416.20" stroke="#222" stroke-width="1.0" />
<text x="511.48" y="425.20" font-size="7.0" text-anchor="middle" fill="#333" stroke="#333" stroke-width="0.18" >0.8</text>
<line x1="388.40" y1="261.40" x2="391.90" y2="261.40" stroke="#222" stroke-width="1.0" />
<text x="387.40" y="263.90" font-size="7.0" text-anchor="end" fill="#333" stroke="#333" stroke-width="0.18" >1.0</text>
<line x1="540.00" y1="412.30" x2="540.00" y2="416.20" stroke="#222" stroke-width="1.0" />
<text x="540.00" y="425.20" font-size="7.0" text-anchor="middle" fill="#333" stroke="#333" stroke-width="0.18" >1.0</text>
<text x="468.50" y="436.60" font-size="7.6" text-anchor="middle" fill="#222" stroke="#222" stroke-width="0.18" >Nomogram prediced survival probability</text>
<text x="0" y="0" font-size="7.6" text-anchor="middle" fill="#222" transform="translate(372.2,333.5) rotate(-90)">Observed fraction survival probability</text>
<line x1="393.12" y1="410.85" x2="540.00" y2="261.40" stroke="#cccccc" stroke-width="0.8" />
<line x1="509.50" y1="261.00" x2="509.50" y2="299.00" stroke="#5fd0e0" stroke-width="0.9" />
<line x1="508.30" y1="261.00" x2="510.70" y2="261.00" stroke="#5fd0e0" stroke-width="0.9" />
<line x1="508.30" y1="299.00" x2="510.70" y2="299.00" stroke="#5fd0e0" stroke-width="0.9" />
<line x1="517.00" y1="264.00" x2="517.00" y2="294.00" stroke="#5fd0e0" stroke-width="0.9" />
<line x1="515.80" y1="264.00" x2="518.20" y2="264.00" stroke="#5fd0e0" stroke-width="0.9" />
<line x1="515.80" y1="294.00" x2="518.20" y2="294.00" stroke="#5fd0e0" stroke-width="0.9" />
<line x1="522.20" y1="261.00" x2="522.20" y2="290.00" stroke="#5fd0e0" stroke-width="0.9" />
<line x1="521.00" y1="261.00" x2="523.40" y2="261.00" stroke="#5fd0e0" stroke-width="0.9" />
<line x1="521.00" y1="290.00" x2="523.40" y2="290.00" stroke="#5fd0e0" stroke-width="0.9" />
<line x1="527.00" y1="261.00" x2="527.00" y2="288.00" stroke="#5fd0e0" stroke-width="0.9" />
<line x1="525.80" y1="261.00" x2="528.20" y2="261.00" stroke="#5fd0e0" stroke-width="0.9" />
<line x1="525.80" y1="288.00" x2="528.20" y2="288.00" stroke="#5fd0e0" stroke-width="0.9" />
<line x1="530.50" y1="261.00" x2="530.50" y2="286.00" stroke="#5fd0e0" stroke-width="0.9" />
<line x1="529.30" y1="261.00" x2="531.70" y2="261.00" stroke="#5fd0e0" stroke-width="0.9" />
<line x1="529.30" y1="286.00" x2="531.70" y2="286.00" stroke="#5fd0e0" stroke-width="0.9" />
<line x1="534.10" y1="261.00" x2="534.10" y2="284.00" stroke="#5fd0e0" stroke-width="0.9" />
<line x1="532.90" y1="261.00" x2="535.30" y2="261.00" stroke="#5fd0e0" stroke-width="0.9" />
<line x1="532.90" y1="284.00" x2="535.30" y2="284.00" stroke="#5fd0e0" stroke-width="0.9" />
<line x1="536.20" y1="261.00" x2="536.20" y2="280.00" stroke="#5fd0e0" stroke-width="0.9" />
<line x1="535.00" y1="261.00" x2="537.40" y2="261.00" stroke="#5fd0e0" stroke-width="0.9" />
<line x1="535.00" y1="280.00" x2="537.40" y2="280.00" stroke="#5fd0e0" stroke-width="0.9" />
<line x1="538.50" y1="261.00" x2="538.50" y2="276.00" stroke="#5fd0e0" stroke-width="0.9" />
<line x1="537.30" y1="261.00" x2="539.70" y2="261.00" stroke="#5fd0e0" stroke-width="0.9" />
<line x1="537.30" y1="276.00" x2="539.70" y2="276.00" stroke="#5fd0e0" stroke-width="0.9" />
<polyline points="484.3,317.2 509.5,282.0 517.0,275.7 522.2,281.4 527.0,277.5 530.5,275.7 534.1,273.1 536.2,267.4 538.5,265.2" fill="none" stroke="#5fd0e0" stroke-width="0.9"/>
<line x1="447.20" y1="318.30" x2="447.20" y2="389.70" stroke="#f4806e" stroke-width="1.0" />
<line x1="446.00" y1="318.30" x2="448.40" y2="318.30" stroke="#f4806e" stroke-width="1.0" />
<line x1="446.00" y1="389.70" x2="448.40" y2="389.70" stroke="#f4806e" stroke-width="1.0" />
<line x1="493.10" y1="279.40" x2="493.10" y2="313.80" stroke="#f4806e" stroke-width="1.0" />
<line x1="491.90" y1="279.40" x2="494.30" y2="279.40" stroke="#f4806e" stroke-width="1.0" />
<line x1="491.90" y1="313.80" x2="494.30" y2="313.80" stroke="#f4806e" stroke-width="1.0" />
<line x1="508.50" y1="261.00" x2="508.50" y2="300.00" stroke="#f4806e" stroke-width="1.0" />
<line x1="507.30" y1="261.00" x2="509.70" y2="261.00" stroke="#f4806e" stroke-width="1.0" />
<line x1="507.30" y1="300.00" x2="509.70" y2="300.00" stroke="#f4806e" stroke-width="1.0" />
<line x1="519.10" y1="266.00" x2="519.10" y2="312.00" stroke="#f4806e" stroke-width="1.0" />
<line x1="517.90" y1="266.00" x2="520.30" y2="266.00" stroke="#f4806e" stroke-width="1.0" />
<line x1="517.90" y1="312.00" x2="520.30" y2="312.00" stroke="#f4806e" stroke-width="1.0" />
<line x1="524.80" y1="261.00" x2="524.80" y2="304.00" stroke="#f4806e" stroke-width="1.0" />
<line x1="523.60" y1="261.00" x2="526.00" y2="261.00" stroke="#f4806e" stroke-width="1.0" />
<line x1="523.60" y1="304.00" x2="526.00" y2="304.00" stroke="#f4806e" stroke-width="1.0" />
<line x1="528.50" y1="261.00" x2="528.50" y2="296.00" stroke="#f4806e" stroke-width="1.0" />
<line x1="527.30" y1="261.00" x2="529.70" y2="261.00" stroke="#f4806e" stroke-width="1.0" />
<line x1="527.30" y1="296.00" x2="529.70" y2="296.00" stroke="#f4806e" stroke-width="1.0" />
<line x1="533.00" y1="261.00" x2="533.00" y2="290.00" stroke="#f4806e" stroke-width="1.0" />
<line x1="531.80" y1="261.00" x2="534.20" y2="261.00" stroke="#f4806e" stroke-width="1.0" />
<line x1="531.80" y1="290.00" x2="534.20" y2="290.00" stroke="#f4806e" stroke-width="1.0" />
<line x1="537.00" y1="261.00" x2="537.00" y2="283.00" stroke="#f4806e" stroke-width="1.0" />
<line x1="535.80" y1="261.00" x2="538.20" y2="261.00" stroke="#f4806e" stroke-width="1.0" />
<line x1="535.80" y1="283.00" x2="538.20" y2="283.00" stroke="#f4806e" stroke-width="1.0" />
<polyline points="447.2,367.8 493.1,298.3 508.3,272.0 519.1,288.0 526.4,279.8 533.0,270.5 538.0,266.0" fill="none" stroke="#f4806e" stroke-width="1.0"/>
<line x1="452.20" y1="287.40" x2="452.20" y2="354.60" stroke="#36bba6" stroke-width="1.1" />
<line x1="451.00" y1="287.40" x2="453.40" y2="287.40" stroke="#36bba6" stroke-width="1.1" />
<line x1="451.00" y1="354.60" x2="453.40" y2="354.60" stroke="#36bba6" stroke-width="1.1" />
<line x1="476.10" y1="261.00" x2="476.10" y2="389.70" stroke="#36bba6" stroke-width="1.1" />
<line x1="474.90" y1="261.00" x2="477.30" y2="261.00" stroke="#36bba6" stroke-width="1.1" />
<line x1="474.90" y1="389.70" x2="477.30" y2="389.70" stroke="#36bba6" stroke-width="1.1" />
<line x1="484.30" y1="278.80" x2="484.30" y2="339.50" stroke="#36bba6" stroke-width="1.1" />
<line x1="483.10" y1="278.80" x2="485.50" y2="278.80" stroke="#36bba6" stroke-width="1.1" />
<line x1="483.10" y1="339.50" x2="485.50" y2="339.50" stroke="#36bba6" stroke-width="1.1" />
<line x1="494.40" y1="266.50" x2="494.40" y2="302.00" stroke="#36bba6" stroke-width="1.1" />
<line x1="493.20" y1="266.50" x2="495.60" y2="266.50" stroke="#36bba6" stroke-width="1.1" />
<line x1="493.20" y1="302.00" x2="495.60" y2="302.00" stroke="#36bba6" stroke-width="1.1" />
<line x1="502.30" y1="261.00" x2="502.30" y2="335.00" stroke="#36bba6" stroke-width="1.1" />
<line x1="501.10" y1="261.00" x2="503.50" y2="261.00" stroke="#36bba6" stroke-width="1.1" />
<line x1="501.10" y1="335.00" x2="503.50" y2="335.00" stroke="#36bba6" stroke-width="1.1" />
<line x1="509.30" y1="261.00" x2="509.30" y2="298.50" stroke="#36bba6" stroke-width="1.1" />
<line x1="508.10" y1="261.00" x2="510.50" y2="261.00" stroke="#36bba6" stroke-width="1.1" />
<line x1="508.10" y1="298.50" x2="510.50" y2="298.50" stroke="#36bba6" stroke-width="1.1" />
<line x1="514.50" y1="261.00" x2="514.50" y2="309.70" stroke="#36bba6" stroke-width="1.1" />
<line x1="513.30" y1="261.00" x2="515.70" y2="261.00" stroke="#36bba6" stroke-width="1.1" />
<line x1="513.30" y1="309.70" x2="515.70" y2="309.70" stroke="#36bba6" stroke-width="1.1" />
<line x1="523.80" y1="261.00" x2="523.80" y2="327.30" stroke="#36bba6" stroke-width="1.1" />
<line x1="522.60" y1="261.00" x2="525.00" y2="261.00" stroke="#36bba6" stroke-width="1.1" />
<line x1="522.60" y1="327.30" x2="525.00" y2="327.30" stroke="#36bba6" stroke-width="1.1" />
<line x1="530.40" y1="261.00" x2="530.40" y2="290.20" stroke="#36bba6" stroke-width="1.1" />
<line x1="529.20" y1="261.00" x2="531.60" y2="261.00" stroke="#36bba6" stroke-width="1.1" />
<line x1="529.20" y1="290.20" x2="531.60" y2="290.20" stroke="#36bba6" stroke-width="1.1" />
<line x1="534.30" y1="261.00" x2="534.30" y2="284.30" stroke="#36bba6" stroke-width="1.1" />
<line x1="533.10" y1="261.00" x2="535.50" y2="261.00" stroke="#36bba6" stroke-width="1.1" />
<line x1="533.10" y1="284.30" x2="535.50" y2="284.30" stroke="#36bba6" stroke-width="1.1" />
<polyline points="414.1,406.5 452.2,327.4 476.1,338.5 484.3,314.5 494.4,288.9 502.1,302.4 509.3,279.8 514.5,286.0 523.8,292.7 530.0,279.0 534.5,272.0 538.5,266.0" fill="none" stroke="#36bba6" stroke-width="1.2"/>
<circle cx="414.1" cy="406.5" r="2.1" fill="#36bba6"/>
<circle cx="452.2" cy="327.4" r="2.1" fill="#36bba6"/>
<circle cx="476.1" cy="338.5" r="2.1" fill="#36bba6"/>
<circle cx="484.3" cy="314.5" r="2.1" fill="#36bba6"/>
<circle cx="494.4" cy="288.9" r="2.1" fill="#36bba6"/>
<circle cx="502.1" cy="302.4" r="2.1" fill="#36bba6"/>
<circle cx="509.3" cy="279.8" r="2.1" fill="#36bba6"/>
<circle cx="514.5" cy="286.0" r="2.1" fill="#36bba6"/>
<circle cx="523.8" cy="292.7" r="2.1" fill="#36bba6"/>
<circle cx="447.2" cy="367.8" r="2.1" fill="#f0503a"/>
<circle cx="493.1" cy="298.3" r="2.1" fill="#f0503a"/>
<circle cx="508.3" cy="272.0" r="2.1" fill="#f0503a"/>
<circle cx="519.1" cy="288.0" r="2.1" fill="#f0503a"/>
<circle cx="526.4" cy="279.8" r="2.1" fill="#f0503a"/>
<circle cx="533.0" cy="270.5" r="2.1" fill="#f0503a"/>
<circle cx="538.0" cy="266.0" r="2.1" fill="#f0503a"/>
<path d="M410.7,395.2 L417.5,402.0 M410.7,402.0 L417.5,395.2" stroke="#2a2ae6" stroke-width="1.1"/>
<path d="M443.5,362.4 L450.3,369.2 M443.5,369.2 L450.3,362.4" stroke="#2a2ae6" stroke-width="1.1"/>
<path d="M448.8,324.0 L455.6,330.8 M448.8,330.8 L455.6,324.0" stroke="#2a2ae6" stroke-width="1.1"/>
<path d="M472.7,335.1 L479.5,341.9 M472.7,341.9 L479.5,335.1" stroke="#2a2ae6" stroke-width="1.1"/>
<path d="M480.9,313.8 L487.7,320.6 M480.9,320.6 L487.7,313.8" stroke="#2a2ae6" stroke-width="1.1"/>
<path d="M490.6,284.1 L497.4,290.9 M490.6,290.9 L497.4,284.1" stroke="#2a2ae6" stroke-width="1.1"/>
<path d="M489.4,296.3 L496.2,303.1 M489.4,303.1 L496.2,296.3" stroke="#2a2ae6" stroke-width="1.1"/>
<path d="M498.8,302.5 L505.6,309.3 M498.8,309.3 L505.6,302.5" stroke="#2a2ae6" stroke-width="1.1"/>
<path d="M505.4,265.6 L512.2,272.4 M505.4,272.4 L512.2,265.6" stroke="#2a2ae6" stroke-width="1.1"/>
<path d="M505.9,277.6 L512.7,284.4 M505.9,284.4 L512.7,277.6" stroke="#2a2ae6" stroke-width="1.1"/>
<path d="M511.1,283.6 L517.9,290.4 M511.1,290.4 L517.9,283.6" stroke="#2a2ae6" stroke-width="1.1"/>
<path d="M513.6,272.3 L520.4,279.1 M513.6,279.1 L520.4,272.3" stroke="#2a2ae6" stroke-width="1.1"/>
<path d="M515.7,284.6 L522.5,291.4 M515.7,291.4 L522.5,284.6" stroke="#2a2ae6" stroke-width="1.1"/>
<path d="M520.2,296.2 L527.0,303.0 M520.2,303.0 L527.0,296.2" stroke="#2a2ae6" stroke-width="1.1"/>
<path d="M518.8,278.0 L525.6,284.8 M518.8,284.8 L525.6,278.0" stroke="#2a2ae6" stroke-width="1.1"/>
<path d="M522.4,275.9 L529.2,282.7 M522.4,282.7 L529.2,275.9" stroke="#2a2ae6" stroke-width="1.1"/>
<path d="M527.1,272.3 L533.9,279.1 M527.1,279.1 L533.9,272.3" stroke="#2a2ae6" stroke-width="1.1"/>
<path d="M530.7,269.7 L537.5,276.5 M530.7,276.5 L537.5,269.7" stroke="#2a2ae6" stroke-width="1.1"/>
<path d="M532.8,264.0 L539.6,270.8 M532.8,270.8 L539.6,264.0" stroke="#2a2ae6" stroke-width="1.1"/>
<path d="M534.8,261.9 L541.6,268.7 M534.8,268.7 L541.6,261.9" stroke="#2a2ae6" stroke-width="1.1"/>
<line x1="498.40" y1="381.50" x2="510.60" y2="381.50" stroke="#4cc8e0" stroke-width="1.1" />
<text x="516.30" y="384.10" font-size="6.45" text-anchor="start" fill="#333" stroke="#333" stroke-width="0.18" >1-Year</text>
<line x1="498.40" y1="389.20" x2="510.60" y2="389.20" stroke="#f47c6c" stroke-width="1.2" />
<text x="516.30" y="391.80" font-size="6.45" text-anchor="start" fill="#333" stroke="#333" stroke-width="0.18" >3-Year</text>
<line x1="498.40" y1="396.80" x2="510.60" y2="396.80" stroke="#3fbfa8" stroke-width="1.8" />
<text x="516.30" y="399.40" font-size="6.45" text-anchor="start" fill="#333" stroke="#333" stroke-width="0.18" >5-Year</text>
<line x1="498.40" y1="404.40" x2="510.60" y2="404.40" stroke="#cfcfcf" stroke-width="1.0" />
<text x="516.30" y="407.00" font-size="6.45" text-anchor="start" fill="#333" stroke="#333" stroke-width="0.18" >Ideal line</text>
</svg></body></html>
